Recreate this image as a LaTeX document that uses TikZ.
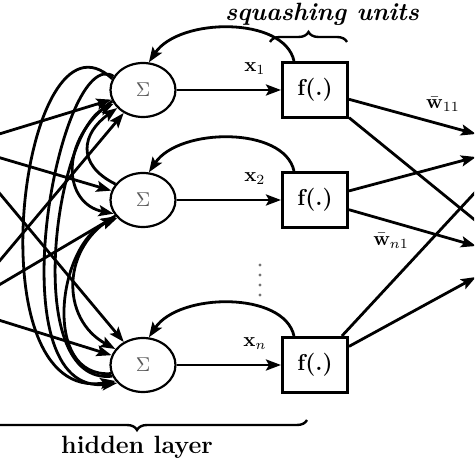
\documentclass[tikz,border=0pt]{standalone}
\usepackage{amsmath,amssymb}
\usepackage{xcolor}
\usetikzlibrary{arrows.meta,shapes.geometric,decorations.pathreplacing}

\tikzset{
	sumnode/.style={draw,ellipse,line width=1.1pt,minimum width=32.5pt,minimum height=27pt,inner sep=0pt,text=black!65},
	squash/.style={draw,rectangle,line width=1.5pt,minimum width=32.5pt,minimum height=27.5pt,inner sep=0pt,font=\fontsize{11.5}{13}\selectfont},
	wire/.style={line width=1.4pt,-{Stealth[length=7.5pt,width=5.5pt,inset=1.5pt]}},
	wlabel/.style={inner sep=1pt},
	bracetext/.style={font=\fontsize{12.5}{15}\selectfont\bfseries},
	bracket/.style={line width=1.2pt,decorate,decoration={brace,amplitude=5pt}},
}

\begin{document}
\begin{tikzpicture}[x=0.5pt,y=-0.5pt]
	\useasboundingbox (0,0) rectangle (474,474);
	\clip (0,0) rectangle (474,474);

	% sum units and squashing units
	\node[sumnode] (s1) at (143,90) {$\Sigma$};
	\node[sumnode] (s2) at (143,200) {$\Sigma$};
	\node[sumnode] (s3) at (143,365) {$\Sigma$};
	\node[squash] (f1) at (315,90) {\textbf{f(.)}};
	\node[squash] (f2) at (315,200) {\textbf{f(.)}};
	\node[squash] (f3) at (315,365) {\textbf{f(.)}};

	% inputs and outputs lie outside the frame
	\coordinate (in1) at (-40,146);
	\coordinate (in2) at (-40,308);
	\coordinate (o1a) at (476,134);
	\coordinate (o1b) at (476,157);
	\coordinate (o1c) at (494,172);
	\coordinate (o2a) at (492,234);
	\coordinate (o2b) at (476,246);
	\coordinate (o2c) at (476,277);

	\draw[wire] (in1) -- (s1);
	\draw[wire] (in1) -- (s2);
	\draw[wire] (in1) -- (s3);
	\draw[wire] (in2) -- (s1);
	\draw[wire] (in2) -- (s2);
	\draw[wire] (in2) -- (s3);

	% lateral links between the sum units
	\draw[wire] (s1.160) .. controls +(-90,-85) and +(-145,25) .. (s3.210);
	\draw[wire] (s1.155) .. controls +(-54,-35) and +(-125,15) .. (s3.215);
	\draw[wire] (s3.200) .. controls +(-90,10) and +(-60,30) .. (s1.205);
	\draw[wire] (s3.195) .. controls +(-70,5) and +(-60,25) .. (s2.215);
	\draw[wire] (s2.150) .. controls +(-40,-20) and +(-35,25) .. (s1.215);
	\draw[wire] (s1.200) .. controls +(-55,40) and +(-50,-10) .. (s2.205);
	\draw[wire] (s2.210) .. controls +(-55,30) and +(-55,-30) .. (s3.150);

	\draw[wire] (s1) -- node[wlabel,pos=0.75,above=6pt] {$\mathbf{x}_1$} (f1);
	\draw[wire] (s2) -- node[wlabel,pos=0.75,above=6pt] {$\mathbf{x}_2$} (f2);
	\draw[wire] (s3) -- node[wlabel,pos=0.75,above=6pt] {$\mathbf{x}_n$} (f3);

	% feedback from each squashing unit
	\draw[wire] ([xshift=6.5pt]f1.north west) .. controls +(-10,-45) and +(30,-45) .. (s1.78);
	\draw[wire] ([xshift=6.5pt]f2.north west) .. controls +(-10,-45) and +(30,-45) .. (s2.78);
	\draw[wire] ([xshift=6.5pt]f3.north west) .. controls +(-10,-45) and +(30,-45) .. (s3.78);

	\draw[wire] (f1) -- node[wlabel,pos=0.74,above=5pt] {$\bar{\mathbf{w}}_{11}$} (o1a);
	\draw[wire] (f2) -- (o1b);
	\draw[wire] (f3) -- node[wlabel,pos=0.58,left=9pt] {$\bar{\mathbf{w}}_{n1}$} (o1c);
	\draw[wire] (f1) -- (o2a);
	\draw[wire] (f2) -- (o2b);
	\draw[wire] (f3) -- (o2c);

	\fill[black!55] (260,265) circle(0.8pt);
	\fill[black!55] (260,275) circle(0.8pt);
	\fill[black!55] (260,285) circle(0.8pt);
	\fill[black!55] (260,295) circle(0.8pt);

	% braces
	\draw[bracket] (270,42) -- (347,42);
	\node[bracetext,font=\fontsize{12.5}{15}\selectfont\bfseries\itshape] (sqlabel) at (322,14) {squashing units};
	\draw[bracket] (307,420) -- (-33,420);
	\node[bracetext] (hidlabel) at (137,447) {hidden layer};
\end{tikzpicture}
\end{document}
